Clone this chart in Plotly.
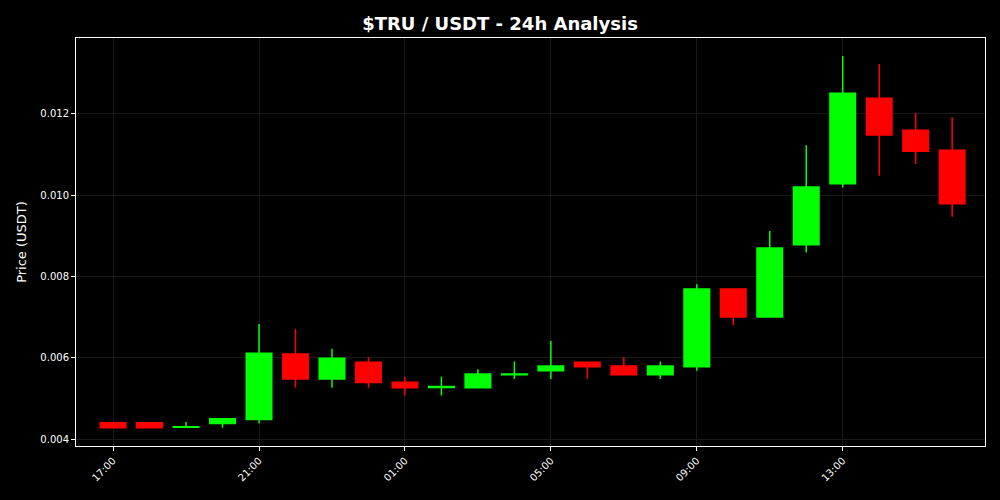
import plotly.graph_objects as go
import pandas as pd

times = pd.date_range("2024-01-01 17:00", periods=24, freq="h")
opens = [0.00440, 0.00440, 0.00429, 0.00438, 0.00448, 0.00609, 0.00548, 0.00589,
         0.00540, 0.00527, 0.00526, 0.00558, 0.00568, 0.00589, 0.00580, 0.00558,
         0.00578, 0.00769, 0.00700, 0.00878, 0.01028, 0.01239, 0.01160, 0.01111]
highs = [0.00441, 0.00441, 0.00442, 0.00451, 0.00683, 0.00671, 0.00622, 0.00601,
         0.00553, 0.00553, 0.00572, 0.00591, 0.00641, 0.00591, 0.00602, 0.00591,
         0.00781, 0.00771, 0.00912, 0.01123, 0.01343, 0.01323, 0.01202, 0.01192]
lows = [0.00428, 0.00428, 0.00429, 0.00428, 0.00438, 0.00526, 0.00526, 0.00526,
        0.00507, 0.00507, 0.00526, 0.00548, 0.00548, 0.00548, 0.00558, 0.00548,
        0.00568, 0.00680, 0.00700, 0.00859, 0.01019, 0.01048, 0.01077, 0.00947]
closes = [0.00428, 0.00428, 0.00430, 0.00450, 0.00611, 0.00548, 0.00599, 0.00539,
          0.00526, 0.00529, 0.00560, 0.00560, 0.00580, 0.00578, 0.00558, 0.00580,
          0.00769, 0.00700, 0.00870, 0.01020, 0.01251, 0.01148, 0.01108, 0.00979]

fig = go.Figure(go.Candlestick(
    x=times, open=opens, high=highs, low=lows, close=closes,
    increasing=dict(line=dict(color="#00ff00", width=1.5), fillcolor="#00ff00"),
    decreasing=dict(line=dict(color="#ff0000", width=1.5), fillcolor="#ff0000"),
    whiskerwidth=0,
    showlegend=False,
))

fig.update_layout(
    width=1000, height=500,
    boxgap=0.3, boxgroupgap=0,
    paper_bgcolor="#000000", plot_bgcolor="#000000",
    margin=dict(l=76, r=15, t=38, b=54),
    title=dict(text="<b>$TRU / USDT - 24h Analysis</b>", x=0.5, xanchor="center",
               y=0.952, yanchor="middle",
               font=dict(family="DejaVu Sans", size=18, color="white")),
    font=dict(family="DejaVu Sans", color="white", size=10),
    xaxis=dict(
        rangeslider=dict(visible=False),
        range=[pd.Timestamp("2024-01-01 15:59"), pd.Timestamp("2024-01-02 16:54")],
        tickformat="%H:%M", dtick=4 * 3600000, tick0=times[0],
        tickangle=-45, ticks="outside", ticklen=4, tickcolor="white",
        showline=True, linecolor="white", linewidth=1, mirror=True,
        showgrid=True, gridcolor="#191919", gridwidth=1, zeroline=False,
        tickfont=dict(size=10, color="white"),
    ),
    yaxis=dict(
        range=[0.003828, 0.01387],
        tickvals=[0.004, 0.006, 0.008, 0.010, 0.012],
        tickformat=".3f",
        ticks="outside", ticklen=4, tickcolor="white",
        showline=True, linecolor="white", linewidth=1, mirror=True,
        showgrid=True, gridcolor="#191919", gridwidth=1, zeroline=False,
        title=dict(text="Price (USDT)", font=dict(size=13, color="white"), standoff=10),
        tickfont=dict(size=10, color="white"),
    ),
)

fig.write_html("out.html", config={"displayModeBar": False},
               post_script="document.body.style.margin='0';document.body.style.background='#000';")
